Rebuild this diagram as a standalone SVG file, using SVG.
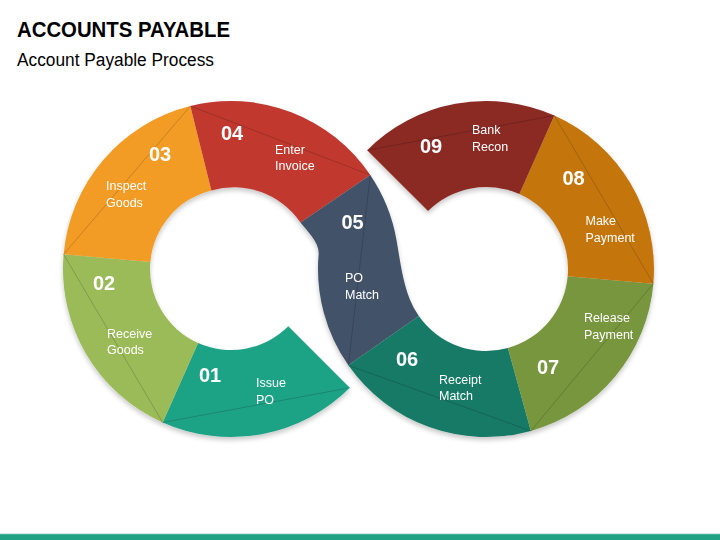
<svg xmlns="http://www.w3.org/2000/svg" width="720" height="540" viewBox="0 0 720 540">
  <defs>
    <filter id="shadow" x="-10%" y="-10%" width="120%" height="125%">
      <feGaussianBlur in="SourceAlpha" stdDeviation="2.5"/>
      <feOffset dx="0" dy="3" result="b"/>
      <feComponentTransfer><feFuncA type="linear" slope="0.22"/></feComponentTransfer>
      <feMerge><feMergeNode/><feMergeNode in="SourceGraphic"/></feMerge>
    </filter>
  </defs>
  <style>
    .title { font-family: "Liberation Sans", Arial, sans-serif; font-weight: bold; font-size: 22px; fill: #000; }
    .sub { font-family: "Liberation Sans", Arial, sans-serif; font-size: 18px; fill: #000; }
    .num { font-family: "Liberation Sans", Arial, sans-serif; font-weight: bold; font-size: 20px; fill: #fff; }
    .lbl { font-family: "Liberation Sans", Arial, sans-serif; font-size: 12.5px; fill: #fff; }
    .facet { stroke: #000; stroke-opacity: 0.2; stroke-width: 0.9; fill: none; }
  </style>
  <rect width="720" height="540" fill="#fff"/>
  <text class="title" x="17" y="37" textLength="213" lengthAdjust="spacingAndGlyphs">ACCOUNTS PAYABLE</text>
  <text class="sub" x="17" y="66" textLength="197" lengthAdjust="spacingAndGlyphs">Account Payable Process</text>

  <g filter="url(#shadow)">
    <g id="node-01">
      <path d="M349.79,387.79 A168,168 0 0 1 162.67,422.47 L198.06,342.99 A81,81 0 0 0 288.28,326.28 Z" fill="#1FA386"/>
      <line class="facet" x1="162.67" y1="422.47" x2="349.79" y2="387.79"/>
      <text class="num" x="199" y="382">01</text>
      <text class="lbl" x="256" y="387">Issue</text>
      <text class="lbl" x="256" y="403.5">PO</text>
    </g>
    <g id="node-02">
      <path d="M162.67,422.47 A168,168 0 0 1 63.64,254.35 L150.31,261.94 A81,81 0 0 0 198.06,342.99 Z" fill="#9BBB59"/>
      <line class="facet" x1="63.64" y1="254.35" x2="162.67" y2="422.47"/>
      <text class="num" x="93" y="290">02</text>
      <text class="lbl" x="107" y="337.5">Receive</text>
      <text class="lbl" x="107" y="354">Goods</text>
    </g>
    <g id="node-03">
      <path d="M63.64,254.35 A168,168 0 0 1 190.36,105.99 L211.41,190.41 A81,81 0 0 0 150.31,261.94 Z" fill="#F29C27"/>
      <line class="facet" x1="190.36" y1="105.99" x2="63.64" y2="254.35"/>
      <text class="num" x="149" y="161">03</text>
      <text class="lbl" x="106" y="190">Inspect</text>
      <text class="lbl" x="106" y="207">Goods</text>
    </g>
    <g id="node-04">
      <path d="M190.36,105.99 A168,168 0 0 1 370.27,175.05 L300.5,222.5 A81,81 0 0 0 211.41,190.41 Z" fill="#C0392F"/>
      <line class="facet" x1="370.27" y1="175.05" x2="190.36" y2="105.99"/>
      <text class="num" x="221" y="139.5">04</text>
      <text class="lbl" x="275" y="153.5">Enter</text>
      <text class="lbl" x="275" y="170">Invoice</text>
    </g>
    <g id="node-05">
      <path d="M370.27,175.05 A168,168 0 0 1 396.45,239.83 C399.92,259.53 402.48,281.18 409.97,299.72 A82,82 0 0 0 418.83,316.03 L348.38,365.36 A168,168 0 0 1 318.64,254.36 C319.7,242.4 307,231 300.5,222.5 Z" fill="#435369"/>
      <line class="facet" x1="370.27" y1="175.05" x2="348.38" y2="365.36"/>
      <text class="num" x="341.5" y="228.5">05</text>
      <text class="lbl" x="345" y="282">PO</text>
      <text class="lbl" x="345" y="298.5">Match</text>
    </g>
    <g id="node-06">
      <path d="M348.38,365.36 A168,168 0 0 0 530.89,430.88 L507.91,348.02 A82,82 0 0 1 418.83,316.03 Z" fill="#167A66"/>
      <line class="facet" x1="348.38" y1="365.36" x2="530.89" y2="430.88"/>
      <text class="num" x="396" y="366">06</text>
      <text class="lbl" x="439" y="383.5">Receipt</text>
      <text class="lbl" x="439" y="400">Match</text>
    </g>
    <g id="node-07">
      <path d="M530.89,430.88 A168,168 0 0 0 653.36,283.64 L567.69,276.15 A82,82 0 0 1 507.91,348.02 Z" fill="#77963D"/>
      <line class="facet" x1="530.89" y1="430.88" x2="653.36" y2="283.64"/>
      <text class="num" x="537" y="373.5">07</text>
      <text class="lbl" x="584" y="322">Release</text>
      <text class="lbl" x="584" y="338.5">Payment</text>
    </g>
    <g id="node-08">
      <path d="M653.36,283.64 A168,168 0 0 0 554.33,115.53 L519.35,194.09 A82,82 0 0 1 567.69,276.15 Z" fill="#C4760E"/>
      <line class="facet" x1="653.36" y1="283.64" x2="554.33" y2="115.53"/>
      <text class="num" x="562.5" y="184.5">08</text>
      <text class="lbl" x="585.5" y="225">Make</text>
      <text class="lbl" x="585.5" y="241.5">Payment</text>
    </g>
    <g id="node-09">
      <path d="M554.33,115.53 A168,168 0 0 0 367.21,150.21 L428.02,211.02 A82,82 0 0 1 519.35,194.09 Z" fill="#8B2A24"/>
      <line class="facet" x1="554.33" y1="115.53" x2="367.21" y2="150.21"/>
      <text class="num" x="420" y="153">09</text>
      <text class="lbl" x="472" y="133.5">Bank</text>
      <text class="lbl" x="472" y="150.5">Recon</text>
    </g>
  </g>
  <g id="connectors"/>
  <rect x="0" y="534" width="720" height="6" fill="#21A184"/>
  <rect x="0" y="533.5" width="720" height="0.8" fill="#9FD6C8"/>
</svg>
